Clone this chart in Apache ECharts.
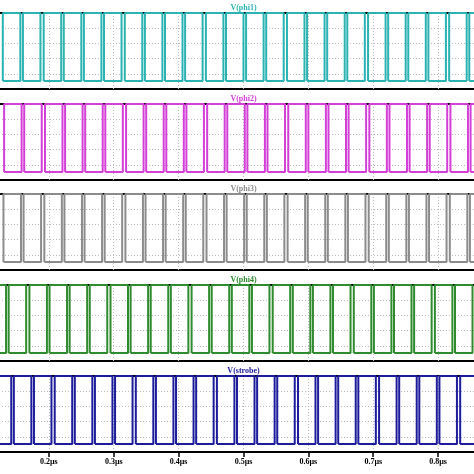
<!DOCTYPE html>
<html>
<head>
<meta charset="utf-8">
<script src="https://cdn.jsdelivr.net/npm/echarts@6/dist/echarts.min.js"></script>
<style>html,body{margin:0;padding:0;background:#fff;overflow:hidden}#main{width:519px;height:474px;margin-left:-16px}</style>
</head>
<body>
<div id="main"></div>
<script>
// signal names and trace colours
var names = ['V(phi1)', 'V(phi2)', 'V(phi3)', 'V(phi4)', 'V(strobe)'];
var colors = ['#2bb3b3', '#d43fd8', '#8c8c8c', '#2e8b2e', '#1c1c9c'];
// pulse start times (µs)
var phi1 = [0.129,0.160,0.192,0.223,0.254,0.285,0.317,0.348,0.379,0.410,0.442,0.473,0.504,0.535,0.567,0.598,0.629,0.660,0.692,0.723,0.754,0.785,0.817,0.848];
var phi2 = [0.131,0.162,0.194,0.225,0.256,0.287,0.319,0.350,0.381,0.412,0.444,0.475,0.506,0.537,0.569,0.600,0.631,0.662,0.694,0.725,0.756,0.787,0.819,0.850];
var phi3 = [0.130,0.161,0.193,0.224,0.255,0.286,0.318,0.349,0.380,0.411,0.443,0.474,0.505,0.536,0.568,0.599,0.630,0.661,0.693,0.724,0.755,0.786,0.818,0.849];
var phi4 = [0.107,0.138,0.170,0.201,0.232,0.263,0.295,0.326,0.357,0.388,0.420,0.451,0.482,0.513,0.545,0.576,0.607,0.638,0.670,0.701,0.732,0.763,0.795,0.826,0.857];
var strobe = [0.115,0.146,0.177,0.209,0.240,0.271,0.302,0.334,0.365,0.396,0.427,0.459,0.490,0.521,0.552,0.584,0.615,0.646,0.677,0.709,0.740,0.771,0.802,0.834];
var pulseWidth = 0.027;  // µs
var lowLevel = 0.53, highLevel = 5;
var starts = [phi1, phi2, phi3, phi4, strobe];

var myChart = echarts.init(document.getElementById('main'));
var tops = [13, 104, 194, 285, 376];
var option = { backgroundColor: '#fff', animation: false, title: [], grid: [], xAxis: [], yAxis: [], series: [] };

for (var i = 0; i < 5; i++) {
    var pts = [];
    starts[i].forEach(function (t) {
        var e = t + pulseWidth;
        pts.push([t, lowLevel], [t, highLevel], [e, highLevel], [e, lowLevel], [t, lowLevel], [t, '-']);
    });
    option.title.push({
        text: names[i], left: 'center', top: tops[i] - 14,
        textStyle: { color: colors[i], fontSize: 8, fontWeight: 'bold', fontFamily: 'Liberation Serif' }
    });
    option.grid.push({ left: 0, right: 0, top: tops[i], height: 76, show: true, borderColor: '#000', borderWidth: 2,
        containLabel: false, outerBoundsMode: 'none' });
    option.xAxis.push({
        type: 'value', gridIndex: i, min: 0.1, max: 0.9, interval: 0.1,
        axisLine: { show: i == 4, lineStyle: { color: '#000', width: 2 } },
        axisTick: { show: i == 4, length: 5, lineStyle: { color: '#000', width: 1.5 } },
        axisLabel: { show: i == 4, color: '#000', fontSize: 8, fontWeight: 'bold', fontFamily: 'Liberation Serif', margin: 6,
            showMinLabel: false, showMaxLabel: false,
            formatter: function (v) { return v.toFixed(1) + 'µs'; } },
        splitLine: { showMinLine: false, showMaxLine: false, lineStyle: { color: '#bbb', type: [1, 2], width: 1 } }
    });
    option.yAxis.push({
        type: 'value', gridIndex: i, min: 0, max: 5, interval: 1,
        axisLine: { show: false }, axisTick: { show: false }, axisLabel: { show: false },
        splitLine: { showMinLine: false, showMaxLine: false, lineStyle: { color: '#bbb', type: [1, 2], width: 1 } }
    });
    option.series.push({
        type: 'line', xAxisIndex: i, yAxisIndex: i, data: pts, showSymbol: false,
        connectNulls: false, lineStyle: { color: colors[i], width: 2 }
    });
}

myChart.setOption(option);
</script>
</body>
</html>
